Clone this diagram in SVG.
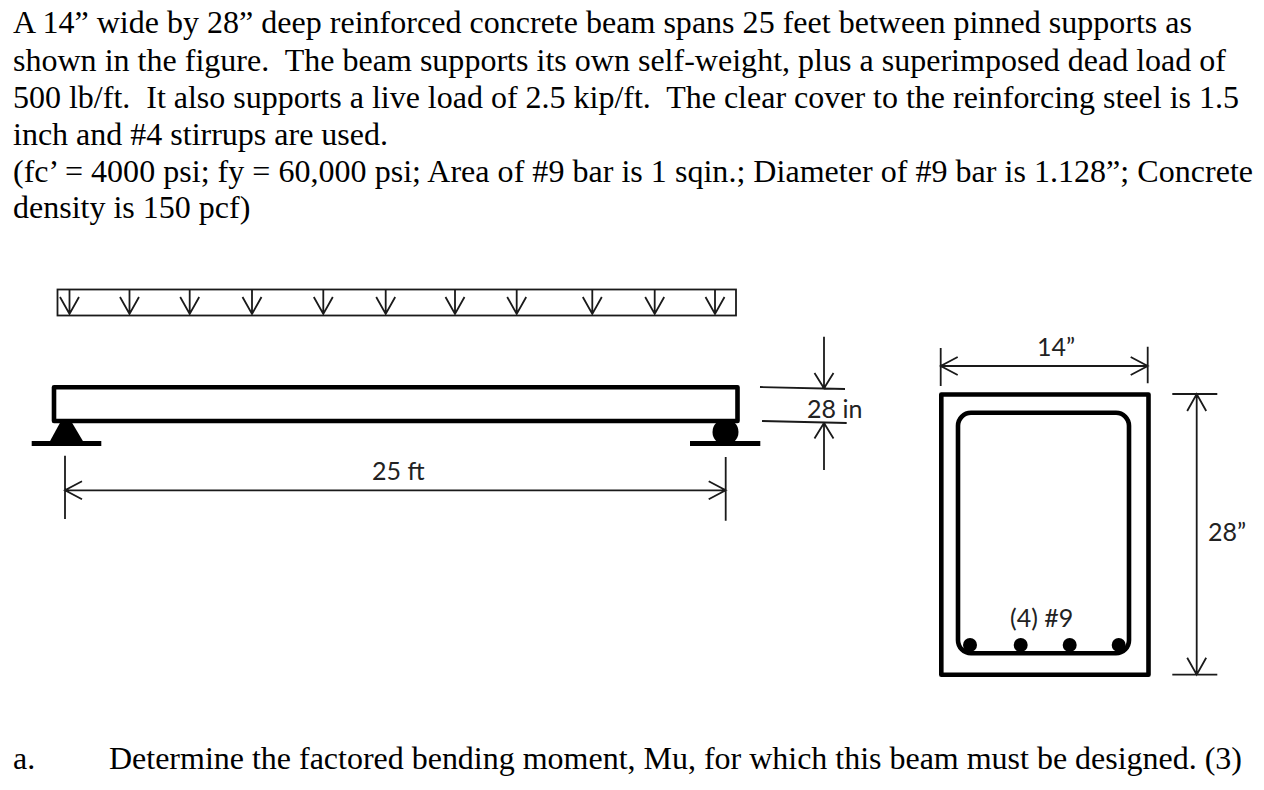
<svg xmlns="http://www.w3.org/2000/svg" width="1264" height="790" viewBox="0 0 1264 790">
<style>
.t{font-family:"Liberation Serif","Times New Roman",serif;font-size:32px;fill:#000;white-space:pre}
.l{font-family:Lato,"Open Sans",sans-serif;font-size:25px;fill:#222}
.thin{fill:none;stroke:#1a1a1a;stroke-width:1.8}
.thick{fill:none;stroke:#000;stroke-width:4.6;stroke-linejoin:round}
.solid{fill:#000}
</style>
<defs>
<path id="d" class="thin" d="M-9.5-17 0 0 9.5-17M0-25V0"/>
</defs>
<rect width="1264" height="790" fill="#fff"/>
<g id="problem-text">
<text class="t" x="13" y="33" textLength="1179">A 14” wide by 28” deep reinforced concrete beam spans 25 feet between pinned supports as</text>
<text class="t" x="13" y="71" textLength="1213">shown in the figure.  The beam supports its own self-weight, plus a superimposed dead load of</text>
<text class="t" x="13" y="108" textLength="1226">500 lb/ft.  It also supports a live load of 2.5 kip/ft.  The clear cover to the reinforcing steel is 1.5</text>
<text class="t" x="13" y="144.5">inch and #4 stirrups are used.</text>
<text class="t" x="13" y="181.5" textLength="1240">(fc’ = 4000 psi; fy = 60,000 psi; Area of #9 bar is 1 sqin.; Diameter of #9 bar is 1.128”; Concrete</text>
<text class="t" x="13" y="218">density is 150 pcf)</text>
<text class="t" x="13" y="769">a.</text>
<text class="t" x="109" y="769" textLength="1133">Determine the factored bending moment, Mu, for which this beam must be designed. (3)</text>
</g>
<g id="load">
<rect class="thin" x="57.5" y="289.5" width="678.5" height="26"/>
<use href="#d" x="69.5" y="314"/><use href="#d" x="129.5" y="314"/><use href="#d" x="189.7" y="314"/><use href="#d" x="252" y="314"/><use href="#d" x="323.3" y="314"/><use href="#d" x="385.7" y="314"/><use href="#d" x="455" y="314"/><use href="#d" x="516.7" y="314"/><use href="#d" x="592.3" y="314"/><use href="#d" x="654.7" y="314"/><use href="#d" x="715" y="314"/>
</g>
<g id="beam">
<rect class="thick" x="54" y="387.2" width="683.5" height="33.8"/>
</g>
<g id="pin-support">
<path class="solid" d="M61 421H71L83.5 442H49.5Z"/>
<rect class="solid" x="31.7" y="441" width="69.6" height="5"/>
</g>
<g id="roller-support">
<circle class="solid" cx="725.5" cy="432" r="13"/>
<rect class="solid" x="690" y="441" width="70.3" height="5"/>
</g>
<g id="connectors">
<path class="thin" d="M65 455.7V519M725.7 457V520.7M65 490.3H725.7M82 481.3 65 490.3 82 499.3M708.7 481.3 725.7 490.3 708.7 499.3"/>
<path class="thin" d="M760 387 845 389M762 421 846.7 423M824 336.7V388.3M814.5 373 824 388.3 833.5 373M824 423V470M814.5 438.5 824 423 833.5 438.5"/>
<path class="thin" d="M940.7 348V386M1147.7 346.7V383.3M940.7 366H1147.7M957.7 357 940.7 366 957.7 375M1130.7 357 1147.7 366 1130.7 375"/>
<path class="thin" d="M1172.3 394H1217.3M1172.3 674.7H1217.3M1196.7 394V674.7M1187.2 411 1196.7 394 1206.2 411M1187.2 657.7 1196.7 674.7 1206.2 657.7"/>
</g>
<g id="section">
<rect class="thick" x="941.3" y="394.5" width="207.2" height="280.3"/>
<rect class="thick" x="958" y="412.7" width="171" height="240.6" rx="13"/>
<circle class="solid" cx="970" cy="645" r="7"/><circle class="solid" cx="1020.7" cy="645" r="7"/><circle class="solid" cx="1069.7" cy="645" r="7"/><circle class="solid" cx="1118.7" cy="645" r="7"/>
</g>
<g id="labels">
<text class="l" x="372" y="480">25 ft</text>
<text class="l" x="807" y="417.5">28 in</text>
<text class="l" x="1037" y="356">14”</text>
<text class="l" x="1208" y="541">28”</text>
<text class="l" x="1010" y="627">(4) #9</text>
</g>
</svg>
